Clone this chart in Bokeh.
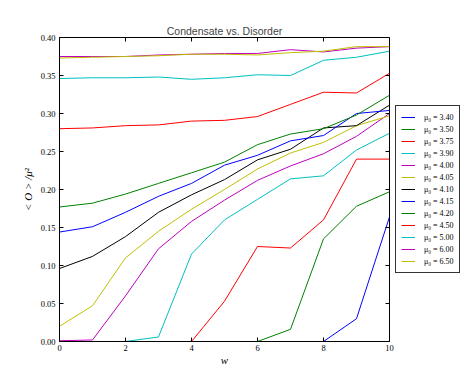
import math
from bokeh.plotting import figure
from bokeh.models import Legend, LegendItem, FixedTicker, Range1d, CustomJSTickFormatter
from bokeh.embed import file_html
from bokeh.resources import INLINE

w = [0, 1, 2, 3, 4, 5, 6, 7, 8, 9, 10]

mu340 = [0, 0, 0, 0, 0, 0, 0, 0, 0, 0.030, 0.164]
mu350 = [0, 0, 0, 0, 0, 0, 0, 0.016, 0.135, 0.178, 0.197]
mu375 = [0, 0, 0, 0, 0, 0.053, 0.125, 0.123, 0.160, 0.240, 0.240]
mu390 = [0, 0, 0, 0.006, 0.115, 0.160, 0.187, 0.214, 0.218, 0.252, 0.274]
mu400 = [0.001, 0.002, 0.060, 0.122, 0.158, 0.186, 0.212, 0.231, 0.247, 0.270, 0.300]
mu405 = [0.020, 0.047, 0.110, 0.145, 0.174, 0.200, 0.227, 0.248, 0.262, 0.284, 0.297]
mu410 = [0.096, 0.112, 0.138, 0.170, 0.193, 0.213, 0.239, 0.253, 0.281, 0.284, 0.311]
mu415 = [0.144, 0.151, 0.170, 0.191, 0.208, 0.232, 0.245, 0.264, 0.271, 0.300, 0.304]
mu420 = [0.177, 0.182, 0.194, 0.208, 0.222, 0.236, 0.259, 0.273, 0.280, 0.298, 0.324]
mu450 = [0.280, 0.281, 0.284, 0.285, 0.290, 0.291, 0.296, 0.312, 0.328, 0.327, 0.353]
mu500 = [0.346, 0.347, 0.347, 0.348, 0.345, 0.347, 0.351, 0.350, 0.370, 0.374, 0.382]
mu600 = [0.375, 0.375, 0.375, 0.377, 0.378, 0.379, 0.379, 0.384, 0.381, 0.386, 0.388]
mu650 = [0.373, 0.374, 0.375, 0.376, 0.378, 0.378, 0.377, 0.380, 0.382, 0.388, 0.388]

labels = ["3.40", "3.50", "3.75", "3.90", "4.00", "4.05", "4.10",
          "4.15", "4.20", "4.50", "5.00", "6.00", "6.50"]
series = [mu340, mu350, mu375, mu390, mu400, mu405, mu410,
          mu415, mu420, mu450, mu500, mu600, mu650]
colors = ["#0000ff", "#008000", "#ff0000", "#00bfbf", "#bf00bf", "#bfbf00", "#000000"]

x_min, x_max = 0, 10
y_min, y_max = 0.0, 0.40
x_ticks = [0, 2, 4, 6, 8, 10]
y_ticks = [0.0, 0.05, 0.10, 0.15, 0.20, 0.25, 0.30, 0.35, 0.40]

p = figure(frame_width=330, frame_height=304, output_backend="svg", toolbar_location=None,
           x_range=Range1d(x_min, x_max), y_range=Range1d(y_min, y_max),
           min_border_left=59, min_border_right=0, min_border_top=37, min_border_bottom=29)
p.title.text = "Condensate vs. Disorder"
p.title.align = "center"
p.title.text_font = "Liberation Sans"
p.title.text_font_size = "10.5px"
p.title.text_font_style = "normal"
p.title.standoff = 2

p.xgrid.visible = False
p.ygrid.visible = False
p.outline_line_color = "black"
p.outline_line_width = 1
p.background_fill_color = "white"
p.border_fill_color = "white"

items = []
for i, (lab, ys) in enumerate(zip(labels, series)):
    r = p.line(w, ys, line_color=colors[i % 7], line_width=1)
    items.append(LegendItem(label="μ₀ = " + lab, renderers=[r]))

# inward tick marks on the top and right edges of the frame
p.ray(x=x_ticks, y=[y_max] * len(x_ticks), length=4, length_units="screen",
      angle=-math.pi / 2, line_color="black", line_width=1)
p.ray(x=[x_max] * len(y_ticks), y=y_ticks, length=4, length_units="screen",
      angle=math.pi, line_color="black", line_width=1)

for ax in [p.xaxis[0], p.yaxis[0]]:
    ax.major_tick_in = 4
    ax.major_tick_out = 0
    ax.minor_tick_line_color = None
    ax.axis_line_color = "black"
    ax.major_tick_line_color = "black"
    ax.major_label_text_font = "Liberation Serif"
    ax.major_label_text_font_size = "8.5px"
    ax.major_label_text_color = "black"
    ax.axis_label_text_font = "Liberation Serif"
    ax.axis_label_text_font_style = "italic"
    ax.axis_label_text_font_size = "11px"
    ax.axis_label_text_color = "black"

p.xaxis[0].ticker = FixedTicker(ticks=x_ticks)
p.yaxis[0].ticker = FixedTicker(ticks=y_ticks)
p.yaxis[0].formatter = CustomJSTickFormatter(code="return tick.toFixed(2);")
p.xaxis[0].axis_label = "w"
p.yaxis[0].axis_label = "< O > /μ²"
p.xaxis[0].major_label_standoff = 3
p.xaxis[0].axis_label_standoff = 0
p.yaxis[0].major_label_standoff = 4
p.yaxis[0].axis_label_standoff = 4

legend = Legend(items=items, location="center_left", orientation="vertical")
legend.label_text_font = "Liberation Serif"
legend.label_text_font_size = "8px"
legend.label_text_color = "black"
legend.glyph_width = 14
legend.glyph_height = 12
legend.label_height = 12
legend.label_standoff = 9
legend.spacing = 0
legend.padding = 5
legend.margin = 6
legend.border_line_color = "black"
legend.border_line_width = 1
legend.border_line_alpha = 0.8
legend.background_fill_color = "white"
legend.background_fill_alpha = 1
p.add_layout(legend, "right")

open("out.html", "w").write(file_html(p, INLINE))
